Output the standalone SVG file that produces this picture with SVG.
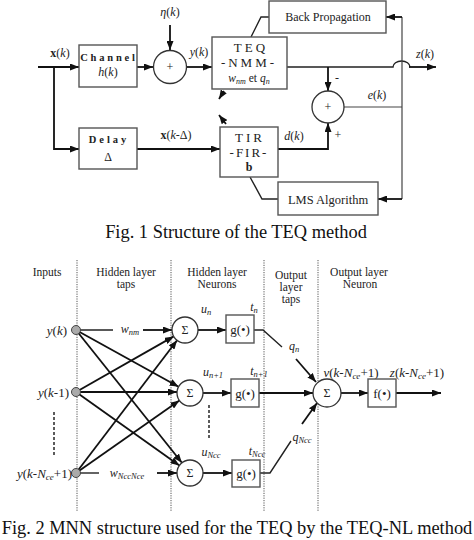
<svg xmlns="http://www.w3.org/2000/svg" width="474" height="540" viewBox="0 0 474 540">
<defs>
<marker id="ah" markerWidth="9" markerHeight="7" refX="9" refY="3.5" orient="auto" markerUnits="userSpaceOnUse"><path d="M0,0 L9,3.5 L0,7 z" fill="#111"/></marker>
<style>
text{font-family:"Liberation Serif","Times New Roman",serif;fill:#222}
.box{fill:#fff;stroke:#555;stroke-width:1.4}
.sum{fill:#fff;stroke:#333;stroke-width:1.3}
.ln{fill:none;stroke:#222;stroke-width:1.4}
.ar{fill:none;stroke:#111;stroke-width:1.8;marker-end:url(#ah)}
.thin{fill:none;stroke:#444;stroke-width:1.2}
.dot{stroke:#555;stroke-width:1;stroke-dasharray:1.2 1.2}
.dash{stroke:#333;stroke-width:1.6;stroke-dasharray:3 2}
.t12{font-size:12px}
.t13{font-size:13px}
.i{font-style:italic}
.b{font-weight:bold}
.cap{font-size:18.4px;fill:#111}
.hd{font-size:11.5px}
.inp{fill:#aaa;stroke:#444;stroke-width:1}
</style>
</defs>

<!-- ============ Fig 1 ============ -->
<g id="connectors1">
<path class="ar" d="M38,67 L79,67"/>
<path class="ar" d="M54,67 L54,149 L79,149"/>
<path class="ar" d="M137,67 L153,67"/>
<path class="ar" d="M170,25 L170,50"/>
<path class="ar" d="M187,67 L212,67"/>
<path class="ar" d="M137,149 L220,149"/>
<path class="ln" d="M286,67 L393,67 A8.5,6 0 0 1 410,67"/>
<path class="ar" d="M409,67 L436,67"/>
<path class="ar" d="M328,67 L328,91"/>
<path class="ar" d="M278,149 L328,149 L328,123"/>
<path class="thin" d="M344,107 L402,107"/>
<path class="thin" d="M402,17 L402,199"/>
<path class="ar" d="M402,17 L386,17"/>
<path class="ar" d="M402,199 L378,199"/>
<path class="ln" d="M251,37 L261,17 L269,17"/>
<path class="ln" d="M278,199 L262,199 L250,177"/>
<path class="ar" d="M224,91 L219,99"/>
<path class="ar" d="M226,124 L219,115"/>
</g>

<g id="lbl1">
<text class="t12" x="60" y="57" text-anchor="middle"><tspan class="b">x</tspan>(<tspan class="i">k</tspan>)</text>
<text class="t12" x="170" y="16" text-anchor="middle"><tspan class="i">η</tspan>(<tspan class="i">k</tspan>)</text>
<text class="t12" x="199" y="56" text-anchor="middle"><tspan class="i">y</tspan>(<tspan class="i">k</tspan>)</text>
<text class="t12" x="176" y="139" text-anchor="middle"><tspan class="b">x</tspan>(<tspan class="i">k</tspan>-Δ)</text>
<text class="t12" x="294" y="140" text-anchor="middle"><tspan class="i">d</tspan>(<tspan class="i">k</tspan>)</text>
<text class="t12" x="425" y="58" text-anchor="middle"><tspan class="i">z</tspan>(<tspan class="i">k</tspan>)</text>
<text class="t12" x="377" y="99" text-anchor="middle"><tspan class="i">e</tspan>(<tspan class="i">k</tspan>)</text>
<text class="t12" x="337" y="82" text-anchor="middle">-</text>
<text class="t12" x="338" y="139" text-anchor="middle">+</text>
</g>

<g id="channel">
<rect class="box" x="79" y="45" width="58" height="42"/>
<text x="109" y="61" text-anchor="middle" class="b" font-size="10.5" letter-spacing="2.8">Channel</text>
<text class="t12" x="108" y="76" text-anchor="middle"><tspan class="i">h</tspan>(<tspan class="i">k</tspan>)</text>
</g>
<g id="sum1">
<circle class="sum" cx="170" cy="67" r="16.5"/>
<text class="t12" x="170" y="71" text-anchor="middle">+</text>
</g>
<g id="teq">
<rect class="box" x="212" y="37" width="75" height="52"/>
<text class="t13" x="251" y="52" text-anchor="middle" letter-spacing="3">TEQ</text>
<text class="t13" x="249" y="67" text-anchor="middle" letter-spacing="3">-NMM-</text>
<text font-size="11.5" x="249" y="82" text-anchor="middle"><tspan class="i">w</tspan><tspan class="i" font-size="8" dy="2">nm</tspan><tspan dy="-2"> et </tspan><tspan class="i">q</tspan><tspan class="i" font-size="8" dy="2">n</tspan></text>
</g>
<g id="bp">
<rect class="box" x="269" y="1" width="117" height="32"/>
<text class="t12" x="328" y="21" text-anchor="middle">Back Propagation</text>
</g>
<g id="sum2">
<circle class="sum" cx="328" cy="107" r="16"/>
<text class="t12" x="328" y="111" text-anchor="middle">+</text>
</g>
<g id="delay">
<rect class="box" x="79" y="128" width="58" height="41"/>
<text x="109" y="143" text-anchor="middle" class="b" font-size="10.5" letter-spacing="3">Delay</text>
<text class="t12" x="108" y="161" text-anchor="middle">Δ</text>
</g>
<g id="tir">
<rect class="box" x="220" y="127" width="58" height="50"/>
<text class="t13" x="250" y="142" text-anchor="middle" letter-spacing="3">TIR</text>
<text class="t13" x="249" y="157" text-anchor="middle" letter-spacing="2">-FIR-</text>
<text class="t12 b" x="249" y="171" text-anchor="middle">b</text>
</g>
<g id="lms">
<rect class="box" x="278" y="182" width="100" height="33"/>
<text font-size="12.5" x="328" y="204" text-anchor="middle">LMS Algorithm</text>
</g>
<text class="cap" x="236" y="238" text-anchor="middle">Fig. 1 Structure of the TEQ method</text>

<!-- ============ Fig 2 ============ -->
<g id="grid">
<line class="dot" x1="77" y1="260" x2="77" y2="512"/>
<line class="dot" x1="171" y1="260" x2="171" y2="512"/>
<line class="dot" x1="264" y1="260" x2="264" y2="512"/>
<line class="dot" x1="318" y1="260" x2="318" y2="512"/>
<line class="dash" x1="54" y1="412" x2="54" y2="455"/>
<line class="dash" x1="209" y1="405" x2="209" y2="438"/>
</g>
<g id="headers">
<text class="hd" x="47" y="276" text-anchor="middle">Inputs</text>
<text class="hd" x="126" y="276" text-anchor="middle">Hidden layer</text>
<text class="hd" x="126" y="288" text-anchor="middle">taps</text>
<text class="hd" x="217" y="276" text-anchor="middle">Hidden layer</text>
<text class="hd" x="217" y="288" text-anchor="middle">Neurons</text>
<text class="hd" x="291" y="279" text-anchor="middle">Output</text>
<text class="hd" x="291" y="291" text-anchor="middle">layer</text>
<text class="hd" x="291" y="303" text-anchor="middle">taps</text>
<text class="hd" x="359" y="276" text-anchor="middle">Output layer</text>
<text class="hd" x="360" y="288" text-anchor="middle">Neuron</text>
</g>

<g id="connectors2">
<path class="ln" d="M80,330 L113,330"/>
<path class="ar" d="M143,330 L172,330"/>
<path class="ar" d="M80,392 L177,392"/>
<path class="ln" d="M80,473 L99,473"/>
<path class="ar" d="M157,473 L177,473"/>
<path class="ar" d="M76,330 L178.6,386.7"/>
<path class="ar" d="M76,330 L181.9,462.8"/>
<path class="ar" d="M76,392 L173.7,336.4"/>
<path class="ar" d="M76,392 L179.4,465.5"/>
<path class="ar" d="M76,473 L177.1,340.3"/>
<path class="ar" d="M76,473 L179.4,400.5"/>
<path class="ar" d="M198,330 L226,330"/>
<path class="ar" d="M203,393 L231,393"/>
<path class="ar" d="M203,473 L232,473"/>
<path class="ln" d="M254,330 L263,330 L282,347"/>
<path class="ar" d="M296,359 L316,382"/>
<path class="ar" d="M259,393 L313,393"/>
<path class="ln" d="M260,473 L270,473 L291,441"/>
<path class="ar" d="M302,424 L317,403"/>
<path class="ar" d="M341,393 L368,393"/>
<path class="ar" d="M396,393 L441,393"/>
</g>

<g id="inputs">
<circle class="inp" cx="76" cy="330" r="4.5"/>
<circle class="inp" cx="76" cy="392" r="4.5"/>
<circle class="inp" cx="76" cy="473" r="4.5"/>
<text class="t13" x="67" y="335" text-anchor="end"><tspan class="i">y</tspan>(<tspan class="i">k</tspan>)</text>
<text class="t13" x="69" y="397" text-anchor="end"><tspan class="i">y</tspan>(<tspan class="i">k</tspan>-1)</text>
<text class="t13" x="72" y="478" text-anchor="end"><tspan class="i">y</tspan>(<tspan class="i">k</tspan>-<tspan class="i">N</tspan><tspan class="i" font-size="9" dy="2">ce</tspan><tspan dy="-2">+1)</tspan></text>
<text class="t12 i" x="130" y="333" text-anchor="middle">w<tspan font-size="8.5" dy="2">nm</tspan></text>
<text class="t12 i" x="127" y="477" text-anchor="middle">w<tspan font-size="8.5" dy="2">NccNce</tspan></text>
</g>

<g id="h1">
<circle class="sum" cx="185" cy="330" r="13"/>
<text class="t12" x="185" y="334" text-anchor="middle">Σ</text>
<text class="t12 i" x="206" y="313" text-anchor="middle">u<tspan font-size="8.5" dy="2">n</tspan></text>
</g>
<g id="h2">
<circle class="sum" cx="190" cy="393" r="13"/>
<text class="t12" x="190" y="397" text-anchor="middle">Σ</text>
<text class="t12 i" x="213" y="376" text-anchor="middle">u<tspan font-size="8.5" dy="2">n+1</tspan></text>
</g>
<g id="h3">
<circle class="sum" cx="190" cy="473" r="13"/>
<text class="t12" x="190" y="477" text-anchor="middle">Σ</text>
<text class="t12 i" x="211" y="456" text-anchor="middle">u<tspan font-size="8.5" dy="2">Ncc</tspan></text>
</g>
<g id="g1">
<rect class="box" x="226" y="315" width="28" height="28"/>
<text class="t13" x="240" y="334" text-anchor="middle">g(•)</text>
<text class="t12 i" x="254" y="311" text-anchor="middle">t<tspan font-size="8.5" dy="2">n</tspan></text>
</g>
<g id="g2">
<rect class="box" x="231" y="379" width="28" height="28"/>
<text class="t13" x="245" y="398" text-anchor="middle">g(•)</text>
<text class="t12 i" x="259" y="375" text-anchor="middle">t<tspan font-size="8.5" dy="2">n+1</tspan></text>
</g>
<g id="g3">
<rect class="box" x="232" y="460" width="28" height="27"/>
<text class="t13" x="246" y="478" text-anchor="middle">g(•)</text>
<text class="t12 i" x="257" y="455" text-anchor="middle">t<tspan font-size="8.5" dy="2">Ncc</tspan></text>
</g>
<text class="t12 i" x="294" y="350" text-anchor="middle">q<tspan font-size="8.5" dy="2">n</tspan></text>
<text class="t12 i" x="302" y="441" text-anchor="middle">q<tspan font-size="8.5" dy="2">Ncc</tspan></text>
<g id="out">
<circle class="sum" cx="327" cy="393" r="14"/>
<text class="t12" x="327" y="397" text-anchor="middle">Σ</text>
<text class="t13" x="351" y="377" text-anchor="middle"><tspan class="i">v</tspan>(<tspan class="i">k</tspan>-<tspan class="i">N</tspan><tspan class="i" font-size="9" dy="2">ce</tspan><tspan dy="-2">+1)</tspan></text>
</g>
<g id="f">
<rect class="box" x="368" y="379" width="28" height="28"/>
<text class="t13" x="382" y="398" text-anchor="middle">f(•)</text>
<text class="t13" x="417" y="377" text-anchor="middle"><tspan class="i">z</tspan>(<tspan class="i">k</tspan>-<tspan class="i">N</tspan><tspan class="i" font-size="9" dy="2">ce</tspan><tspan dy="-2">+1)</tspan></text>
</g>
<text class="cap" x="237" y="534" text-anchor="middle">Fig. 2 MNN structure used for the TEQ by the TEQ-NL method</text>
</svg>
